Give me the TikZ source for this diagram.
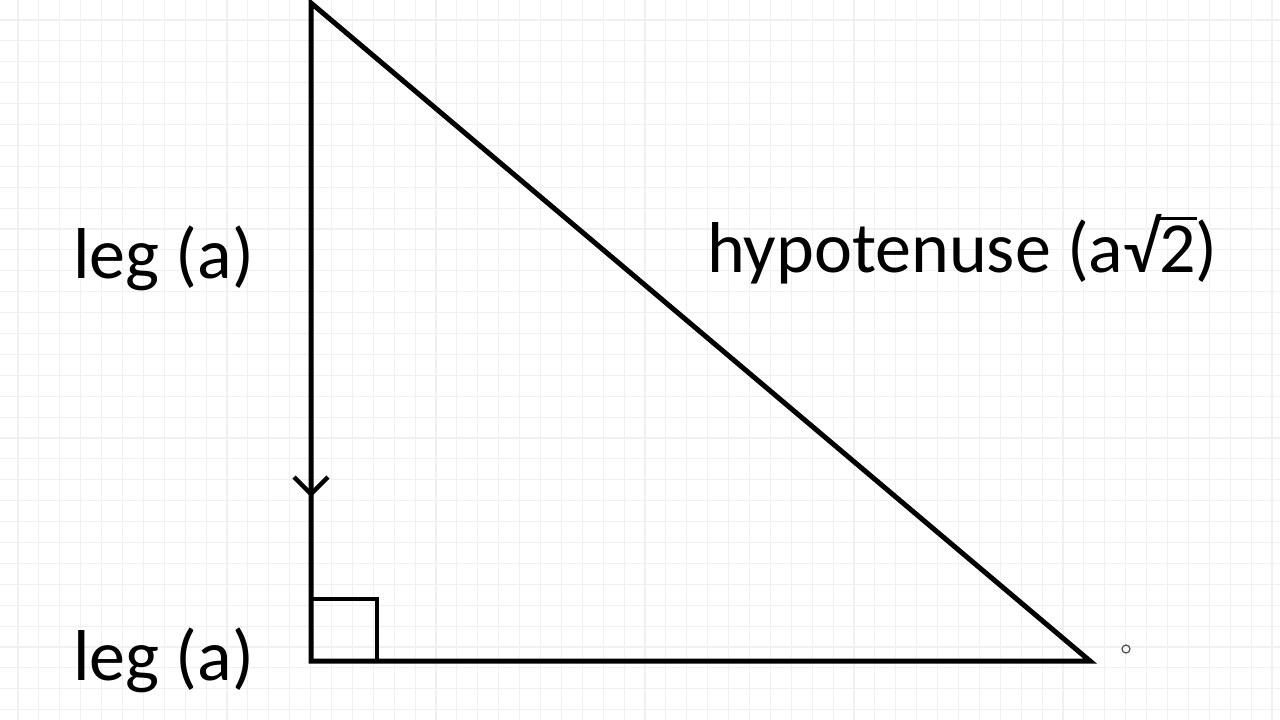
\documentclass[tikz,border=0pt]{standalone}
\usepackage{fontspec}
\setmainfont{Carlito}
\begin{document}
\begin{tikzpicture}[x=1pt,y=-1pt,
  gridline/.style={draw=black!6,line width=1.1pt},
  edge/.style={draw=black,line width=5pt,line join=miter},
  lbl/.style={inner sep=0pt,anchor=base west,font=\fontsize{72}{86}\selectfont}]
\useasboundingbox (0,0) rectangle (1280,720);
\fill[white] (0,0) rectangle (1280,720);
% grid
\foreach \i in {0,...,61} {
  \draw[gridline] ({18+20.9*\i},0) -- ({18+20.9*\i},720);
}
\foreach \j in {0,...,34} {
  \draw[gridline] (0,{20+20.9*\j}) -- (1280,{20+20.9*\j});
}
% triangle
\coordinate (T) at (311,3);
\coordinate (R) at (311,661);
\coordinate (B) at (1090,661);
\draw[edge] (T) -- (R) -- (B) -- cycle;
% right-angle mark
\coordinate (sq1) at (311,599);
\coordinate (sq2) at (377,599);
\coordinate (sq3) at (377,661);
\draw[black,line width=4pt,line join=miter] (sq1) -- (sq2) -- (sq3);
% tick on vertical leg
\coordinate (ar1) at (294,477);
\coordinate (ar2) at (311,494);
\coordinate (ar3) at (328,477);
\draw[black,line width=4.5pt,line join=miter] (ar1) -- (ar2) -- (ar3);
% small circle
\node[draw=black!70,line width=1.2pt,circle,minimum size=8pt,inner sep=0pt] (dot) at (1126,649) {};
% labels
\node[lbl] (leg1) at (73,278) {leg (a)};
\node[lbl] (leg2) at (73,680) {leg (a)};
\node[lbl] (hyp) at (707,272) {hypotenuse (a√\rlap{\rule[52pt]{0.52em}{3.5pt}}2)};
\end{tikzpicture}
\end{document}
